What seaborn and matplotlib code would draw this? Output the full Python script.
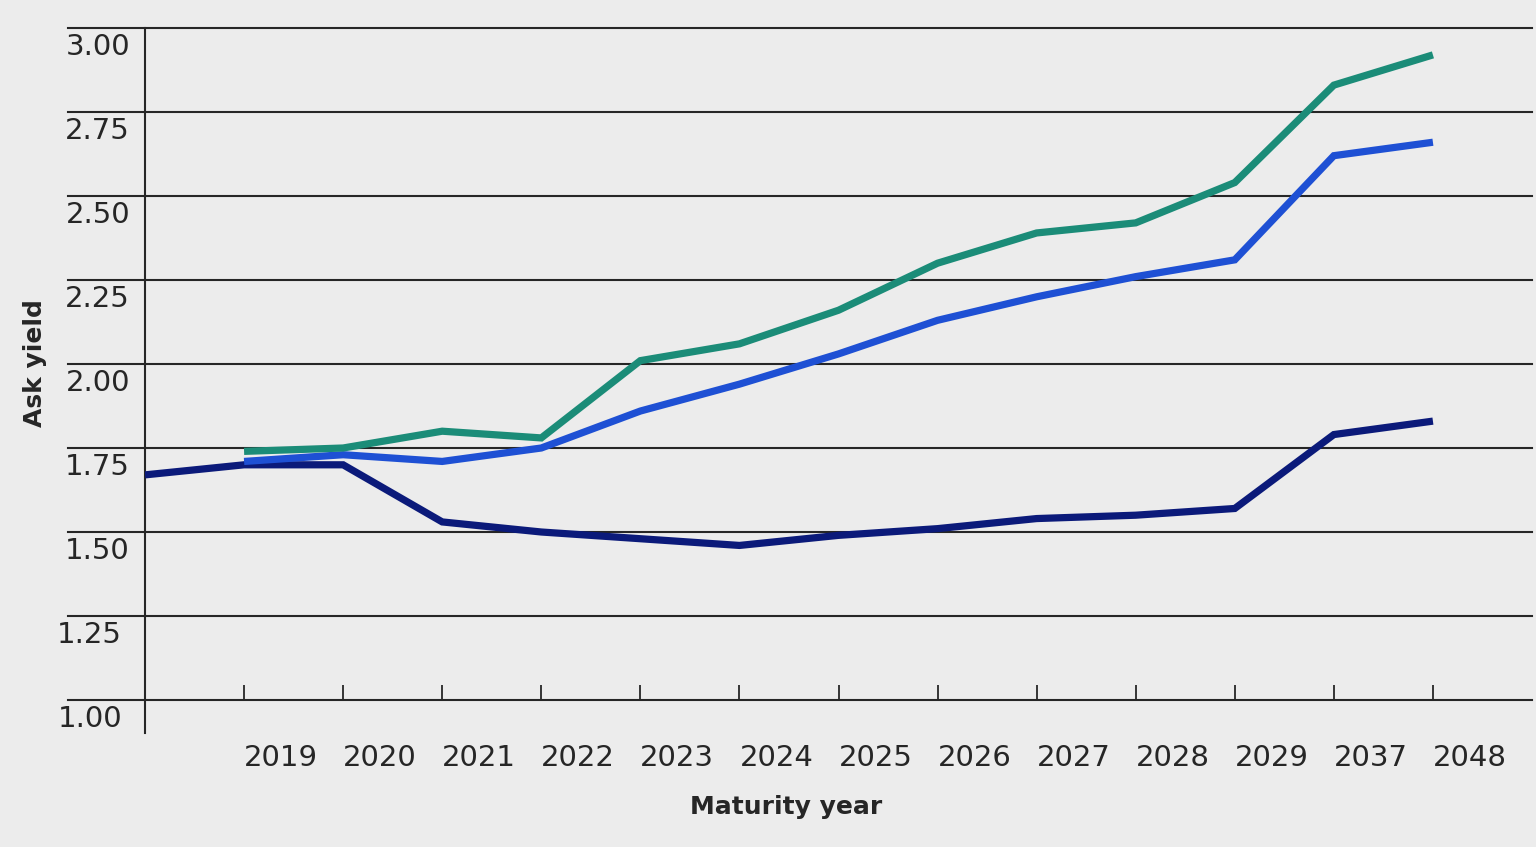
import numpy as np
import pandas as pd
import matplotlib
matplotlib.use("Agg")
import matplotlib.pyplot as plt
import matplotlib.transforms as mtransforms
import seaborn as sns

# maturity positions (0 = start point without label)
years = ['', '2019', '2020', '2021', '2022', '2023', '2024', '2025',
         '2026', '2027', '2028', '2029', '2037', '2048']
navy_vals = [1.67, 1.70, 1.70, 1.53, 1.50, 1.48, 1.46, 1.49, 1.51, 1.54, 1.55, 1.57, 1.79, 1.83]
blue_vals = [np.nan, 1.71, 1.73, 1.71, 1.75, 1.86, 1.94, 2.03, 2.13, 2.20, 2.26, 2.31, 2.62, 2.66]
green_vals = [np.nan, 1.74, 1.75, 1.80, 1.78, 2.01, 2.06, 2.16, 2.30, 2.39, 2.42, 2.54, 2.83, 2.92]
ytick_vals = [1.00, 1.25, 1.50, 1.75, 2.00, 2.25, 2.50, 2.75, 3.00]

pos = np.arange(len(years))
df = pd.DataFrame({
    'pos': np.tile(pos, 3),
    'yield': navy_vals + blue_vals + green_vals,
    'series': ['navy'] * len(pos) + ['blue'] * len(pos) + ['green'] * len(pos),
}).dropna()

bg = '#ececec'
ink = '#262626'
palette = {'navy': '#0b1a7a', 'blue': '#1e50d4', 'green': '#1b8c78'}

W, H = 1536, 847
fig = plt.figure(figsize=(W / 100, H / 100), dpi=100, facecolor=bg)
left, right, top, bottom = 145, 1532, 28, 700
ax = fig.add_axes([left / W, (H - bottom) / H, (right - left) / W, (bottom - top) / H])
ax.set_facecolor(bg)

sns.lineplot(data=df, x='pos', y='yield', hue='series', palette=palette,
             hue_order=['navy', 'blue', 'green'], linewidth=5.2, legend=False,
             ax=ax, solid_capstyle='butt', solid_joinstyle='miter', zorder=3)

ax.set_xlim(0, 14.0)
ax.set_ylim(1.0, 3.0)

# horizontal rules, extended a bit left of the axis
ext = (68 - left) / (right - left)
for v in ytick_vals:
    ax.axhline(v, xmin=ext, xmax=1, color=ink, lw=1.5, clip_on=False, zorder=1)

for s in ['top', 'right', 'bottom']:
    ax.spines[s].set_visible(False)
ax.spines['left'].set_color(ink)
ax.spines['left'].set_linewidth(1.5)
ax.spines['left'].set_bounds(0.902, 3.0)

# x ticks
ax.set_xticks(pos[1:])
ax.set_xticklabels(years[1:], fontsize=21, color=ink, ha='left')
ax.tick_params(axis='x', direction='in', length=10.8, width=1.3, color=ink, pad=32)
ax.set_yticks([])
ax.set_xlabel('')
ax.set_ylabel('')

# y labels sit just under each rule
shift = {1.00: -8, 1.25: -8}
for v in ytick_vals:
    off = mtransforms.ScaledTranslation((-15 + shift.get(v, 0)) / 100, -19 / 100, fig.dpi_scale_trans)
    ax.text(0, v, f'{v:.2f}', transform=ax.get_yaxis_transform() + off,
            ha='right', va='center', fontsize=21, color=ink)

fig.text(35 / W, 1 - 363 / H, 'Ask yield', rotation=90, ha='center', va='center',
         fontsize=18, fontweight='bold', color=ink)
fig.text(786 / W, 1 - 807 / H, 'Maturity year', ha='center', va='center',
         fontsize=18, fontweight='bold', color=ink)

fig.savefig('out.png', dpi=100, facecolor=bg)
